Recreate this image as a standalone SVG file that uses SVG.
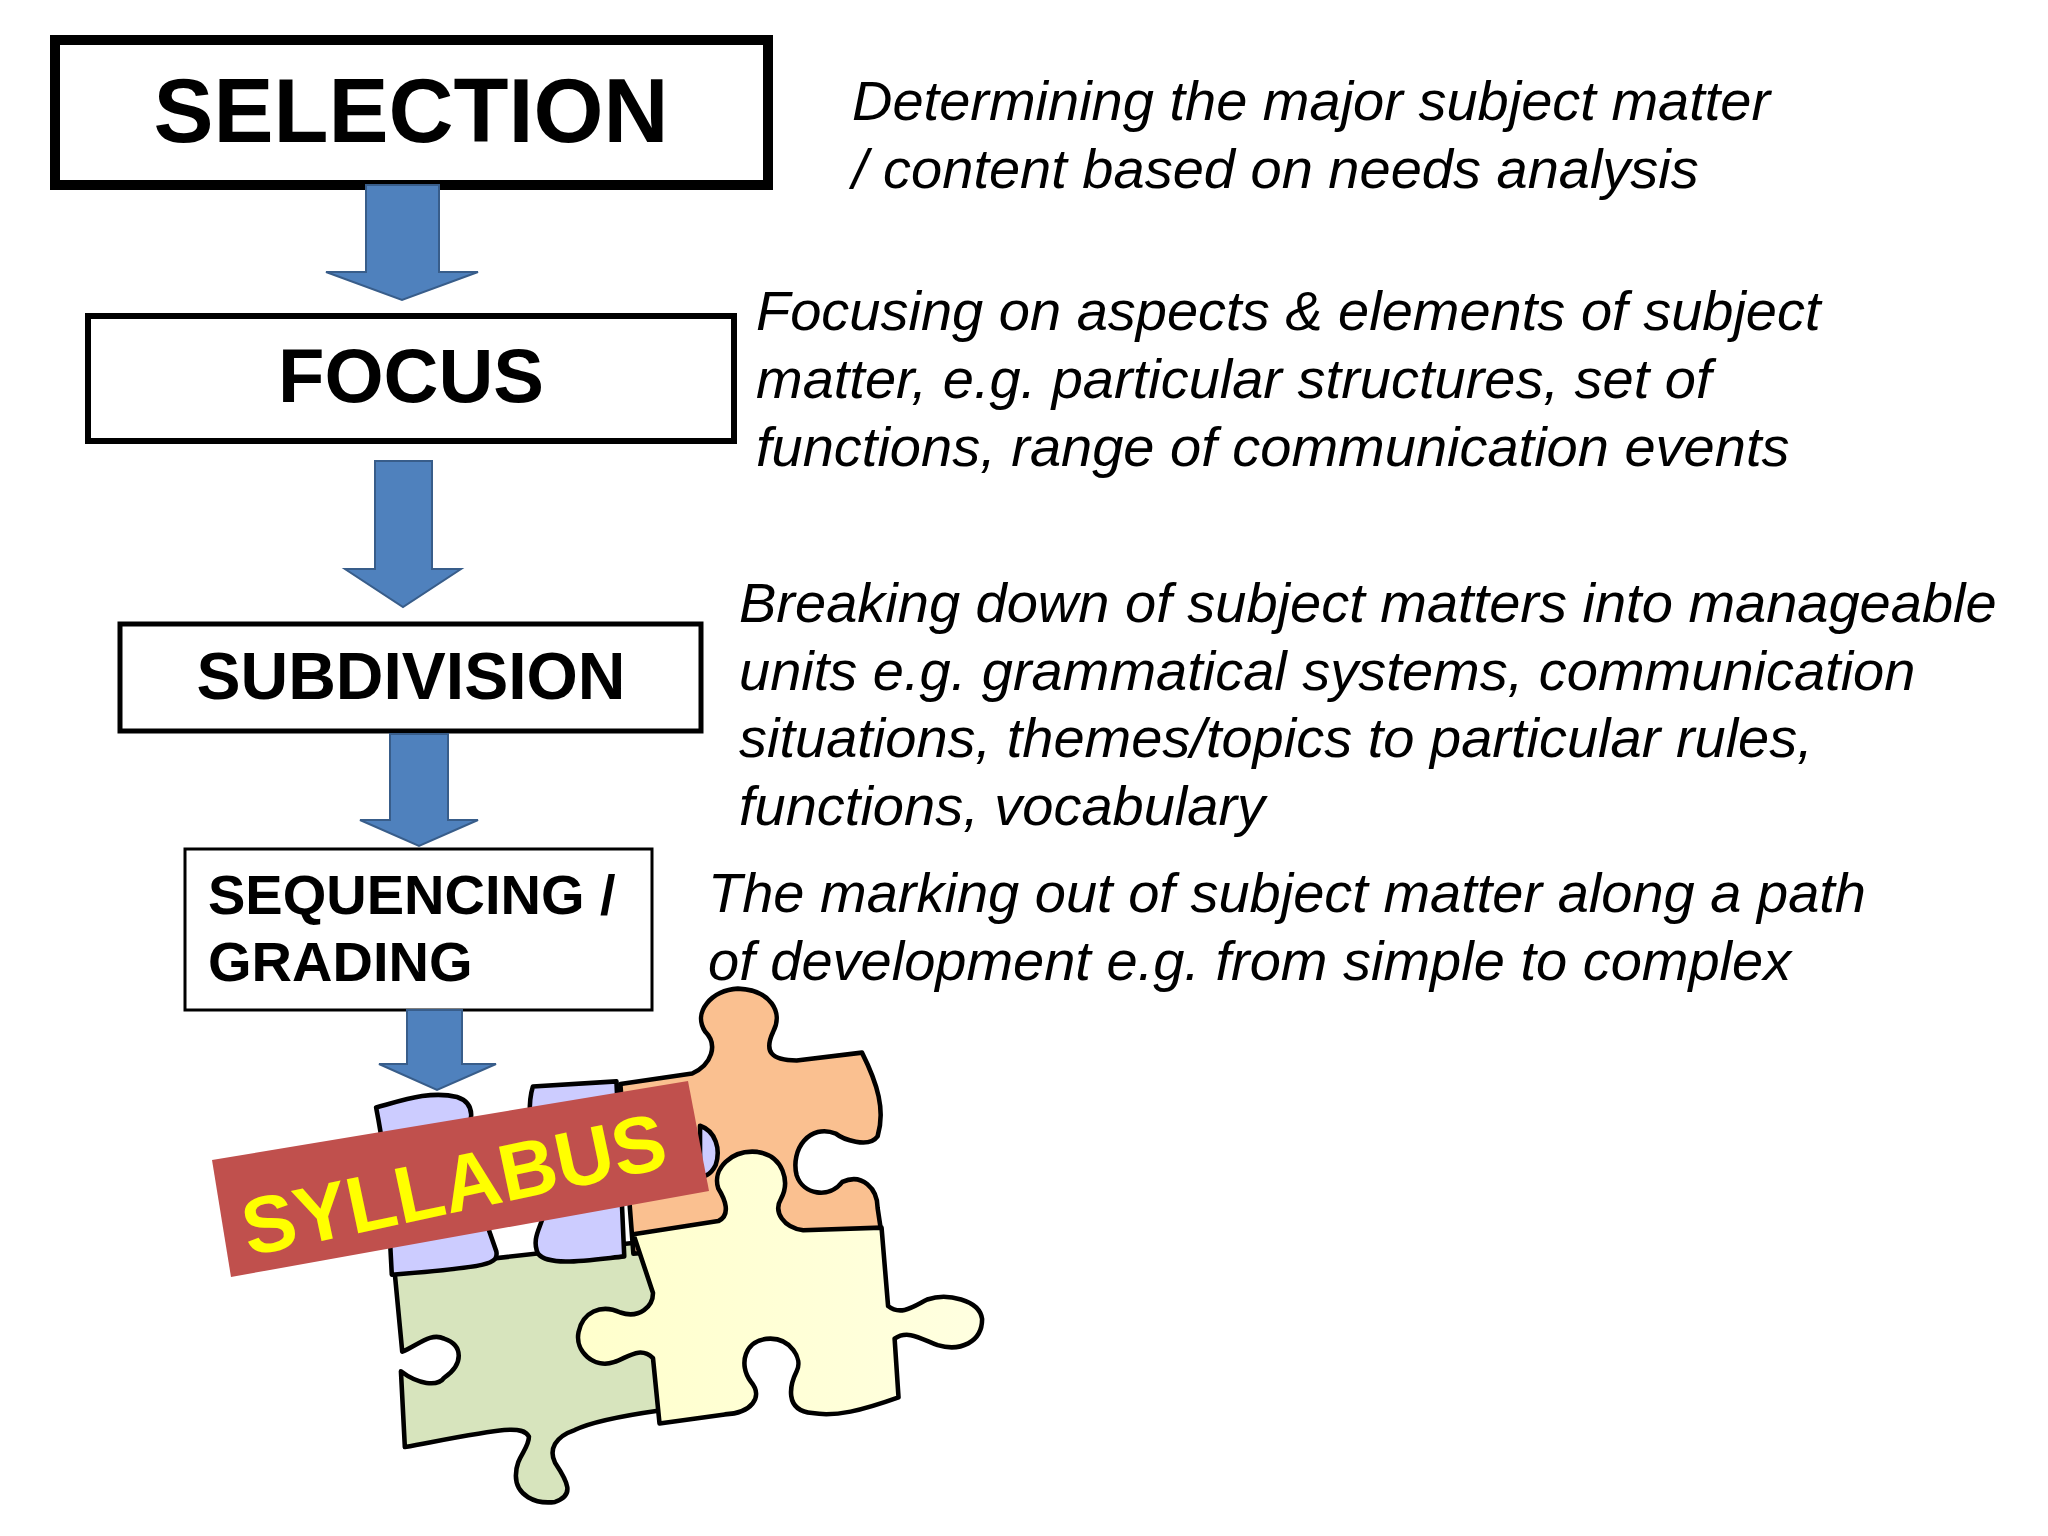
<svg xmlns="http://www.w3.org/2000/svg" width="2048" height="1536" viewBox="0 0 2048 1536">
<style>
.box{fill:#fff;stroke:#000}
.lbl{font-family:"Liberation Sans",Arial,sans-serif;font-weight:bold;fill:#000}
.desc{font-family:"Liberation Sans",Arial,sans-serif;font-style:italic;font-size:56px;fill:#000}
.arr{fill:#4F81BD;stroke:#385D8A;stroke-width:2}
.pz{stroke:#000;stroke-width:3.5;stroke-linejoin:round}
</style>
<rect width="2048" height="1536" fill="#fff"/>
<g id="selection"><rect class="box" x="55" y="40" width="713" height="145" stroke-width="10"/><text class="lbl" x="411" y="142" font-size="90" text-anchor="middle">SELECTION</text></g>
<g id="focus"><rect class="box" x="88" y="316" width="646" height="125" stroke-width="6"/><text class="lbl" x="411" y="402" font-size="76" text-anchor="middle">FOCUS</text></g>
<g id="subdivision"><rect class="box" x="120" y="624" width="581" height="107" stroke-width="5"/><text class="lbl" x="411" y="699" font-size="66" text-anchor="middle">SUBDIVISION</text></g>
<g id="sequencing"><rect class="box" x="185" y="849" width="467" height="161" stroke-width="3"/><text class="lbl" x="208" y="914" font-size="56">SEQUENCING /</text><text class="lbl" x="208" y="981" font-size="56">GRADING</text></g>
<g id="connectors">
<polygon class="arr" points="366,185 439,185 439,272 478,272 402,300 326,272 366,272"/>
<polygon class="arr" points="375,461 432,461 432,569 461,569 403,607 345,569 375,569"/>
<polygon class="arr" points="390,734 448,734 448,820 478,820 419,846 360,820 390,820"/>
<polygon class="arr" points="407,1010 462,1010 462,1064 496,1064 437,1090 379,1064 407,1064"/>
</g>
<g id="descriptions">
<text class="desc" x="852" y="120">Determining the major subject matter</text>
<text class="desc" x="852" y="188">/ content based on needs analysis</text>
<text class="desc" x="756" y="330">Focusing on aspects &amp; elements of subject</text>
<text class="desc" x="756" y="398">matter, e.g. particular  structures, set of</text>
<text class="desc" x="756" y="466">functions, range of communication events</text>
<text class="desc" x="739" y="622">Breaking down of subject matters into manageable</text>
<text class="desc" x="739" y="690">units e.g. grammatical systems, communication</text>
<text class="desc" x="739" y="757">situations, themes/topics to particular rules,</text>
<text class="desc" x="739" y="825">functions, vocabulary</text>
<text class="desc" x="708" y="912">The marking out of subject matter along a path</text>
<text class="desc" x="708" y="980">of development e.g. from simple to complex</text>
</g>
<defs><linearGradient id="yg" x1="0" y1="0" x2="1" y2="0"><stop offset="0" stop-color="#FFFFCC"/><stop offset="1" stop-color="#FFFFE0"/></linearGradient></defs>
<g id="puzzle" transform="scale(1.306)">
<path class="pz" fill="#D7E4BD" d="M302,972 L500,950 L505,1080 C470,1085 450,1090 440,1095 C425,1100 420,1110 425,1120 C435,1135 440,1145 425,1150 C410,1152 395,1145 395,1130 C395,1115 405,1110 405,1100 C400,1090 380,1095 310,1108 L307,1050 C320,1060 335,1062 340,1055 C355,1045 355,1030 340,1025 C330,1020 320,1030 308,1035 Z"/>
<path class="pz" fill="#CCCCFF" d="M288,848 C310,842 330,835 350,840 C365,845 362,860 355,870 C348,885 360,900 365,915 L380,958 C382,968 375,970 300,976 L296,900 C293,870 290,860 288,848 Z"/>
<path class="pz" fill="#CCCCFF" d="M408,832 L472,828 L478,962 C450,965 420,970 412,960 C405,945 420,935 416,920 L410,880 C405,860 404,845 408,832 Z"/>
<path class="pz" fill="#FAC090" d="M475,830 L530,822 C545,815 550,800 540,790 C530,775 545,758 565,757 C590,758 600,775 592,790 C585,805 590,812 610,812 L660,806 C672,830 678,850 672,870 C665,880 645,872 640,868 C620,860 605,880 610,900 C615,915 635,918 645,905 C660,898 672,910 672,925 L675,945 L600,950 L485,960 Z"/>
<path class="pz" fill="#CCCCFF" d="M536,862 C548,866 552,880 548,892 C544,900 538,902 536,900 Z"/>
<path class="pz" fill="url(#yg)" d="M485,945 L550,935 C560,930 555,918 550,910 C545,895 560,880 580,882 C600,885 605,905 598,918 C592,928 600,940 615,942 L675,940 L680,1000 C690,1008 700,1000 710,995 C725,990 750,995 752,1010 C752,1028 735,1035 718,1030 C705,1025 695,1018 685,1025 L688,1070 C660,1080 640,1085 622,1082 C600,1080 605,1060 610,1050 C615,1040 605,1025 590,1025 C570,1025 565,1045 575,1058 C585,1070 575,1082 555,1083 L505,1090 L500,1040 C490,1030 480,1040 470,1043 C455,1048 440,1035 443,1020 C446,1005 460,998 475,1005 C490,1010 500,1000 500,990 Z"/>
</g>
<g id="syllabus">
<polygon points="212,1160 688,1081 709,1191 231,1277" fill="#C0504D"/>
<text x="455" y="1212" font-family="Liberation Sans,Arial,sans-serif" font-weight="bold" font-size="80" fill="#FFFF00" text-anchor="middle" transform="rotate(-12 455 1190)">SYLLABUS</text>
</g>
</svg>
